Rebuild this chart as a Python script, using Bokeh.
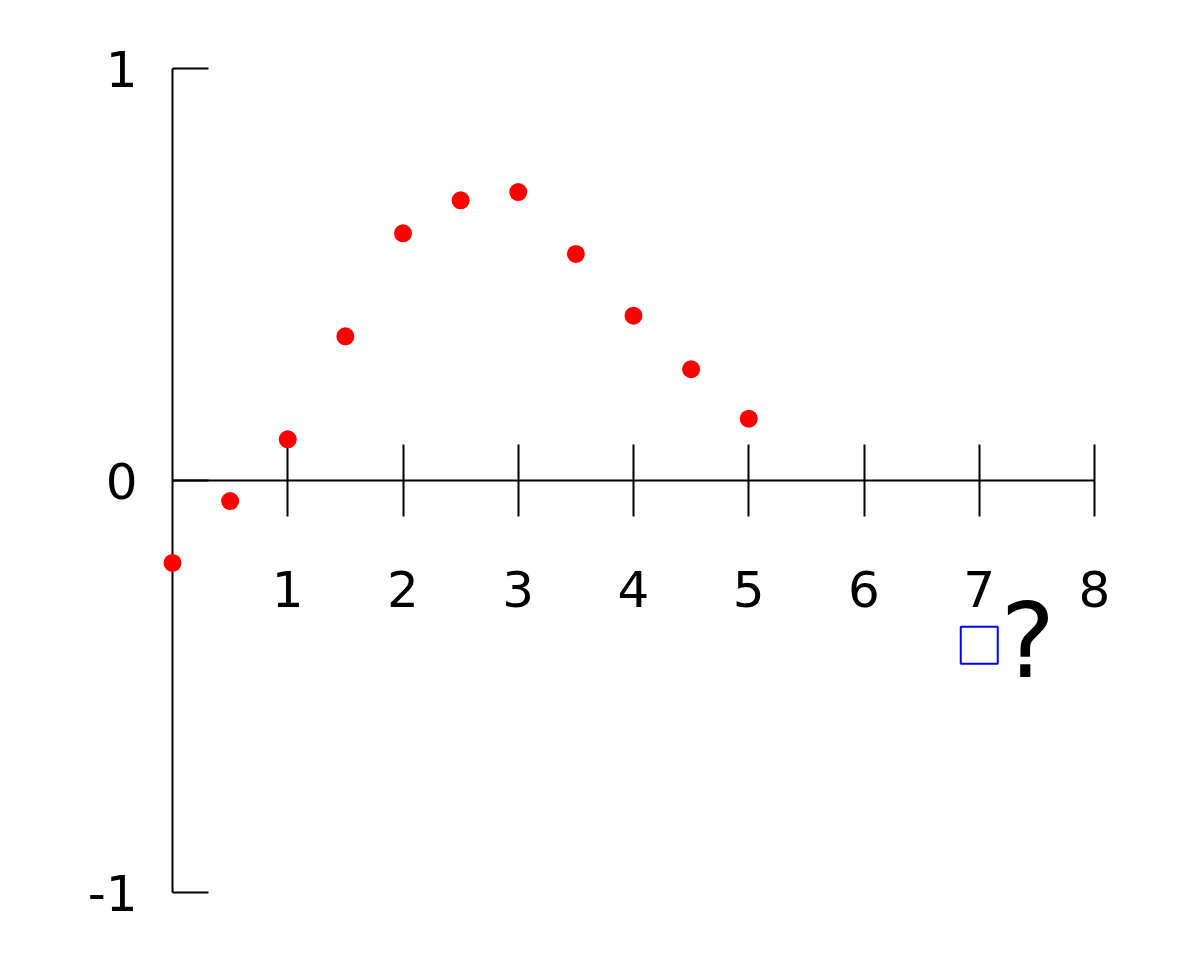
from bokeh.plotting import figure
from bokeh.models import LinearAxis, FixedTicker, Range1d, ColumnDataSource
from bokeh.core.properties import value
from bokeh.embed import file_html
from bokeh.resources import INLINE

# data
x_values = [0, 0.5, 1, 1.5, 2, 2.5, 3, 3.5, 4, 4.5, 5]
y_values = [-0.2, -0.05, 0.1, 0.35, 0.6, 0.68, 0.7, 0.55, 0.4, 0.27, 0.15]
x_ticks = [1, 2, 3, 4, 5, 6, 7, 8]
y_ticks = [-1, 0, 1]
y_tick_labels = {-1: "-1", 0: "0", 1: "1"}
marker_x = [7]
marker_y = [-0.4]
note_x = [7.185]
note_y = [-0.39]
note_text = ["?"]

FONT = "DejaVu Sans"
W, H = 1184, 944
px_per_x = 115.25
px_per_y = 412.0
x0_px, y0_px = 172, 480  # canvas position of data origin

p = figure(width=W, height=H, output_backend="svg", toolbar_location=None,
           x_range=Range1d(-x0_px / px_per_x, (W - x0_px) / px_per_x),
           y_range=Range1d(-(H - y0_px) / px_per_y, y0_px / px_per_y),
           x_axis_location=None, y_axis_location=None,
           min_border=0)
p.outline_line_color = None
p.xgrid.visible = False
p.ygrid.visible = False
p.background_fill_color = "white"
p.border_fill_color = "white"

xaxis = LinearAxis(fixed_location=0, bounds=(0, 8), ticker=FixedTicker(ticks=x_ticks))
xaxis.axis_line_width = 2
xaxis.axis_line_color = "black"
xaxis.major_tick_line_width = 2
xaxis.major_tick_line_color = "black"
xaxis.major_tick_in = 36
xaxis.major_tick_out = 36
xaxis.minor_tick_line_color = None
xaxis.major_label_text_font = FONT
xaxis.major_label_text_font_size = "50px"
xaxis.major_label_text_color = "black"
xaxis.major_label_standoff = 54
p.add_layout(xaxis, "below")

yaxis = LinearAxis(fixed_location=0, bounds=(-1, 1), ticker=FixedTicker(ticks=y_ticks))
yaxis.axis_line_width = 2
yaxis.axis_line_color = "black"
yaxis.major_tick_line_width = 2
yaxis.major_tick_line_color = "black"
yaxis.major_tick_in = 36
yaxis.major_tick_out = 0
yaxis.minor_tick_line_color = None
yaxis.major_label_text_font = FONT
yaxis.major_label_text_font_size = "50px"
yaxis.major_label_text_color = "black"
yaxis.major_label_standoff = 35
yaxis.major_label_overrides = y_tick_labels
p.add_layout(yaxis, "left")

src = ColumnDataSource(dict(x=x_values, y=y_values))
p.scatter("x", "y", source=src, size=18, fill_color="#ff0000", line_color=None, level="overlay")

p.scatter(marker_x, marker_y, marker="square", size=37, fill_color=None,
          line_color="#0000ff", line_width=2, level="overlay")

p.text(note_x, note_y, text=note_text, text_font=value(FONT), text_font_size="103px",
       text_color="black", text_align="left", text_baseline="alphabetic", level="overlay")

open("out.html", "w").write(file_html(p, INLINE))
